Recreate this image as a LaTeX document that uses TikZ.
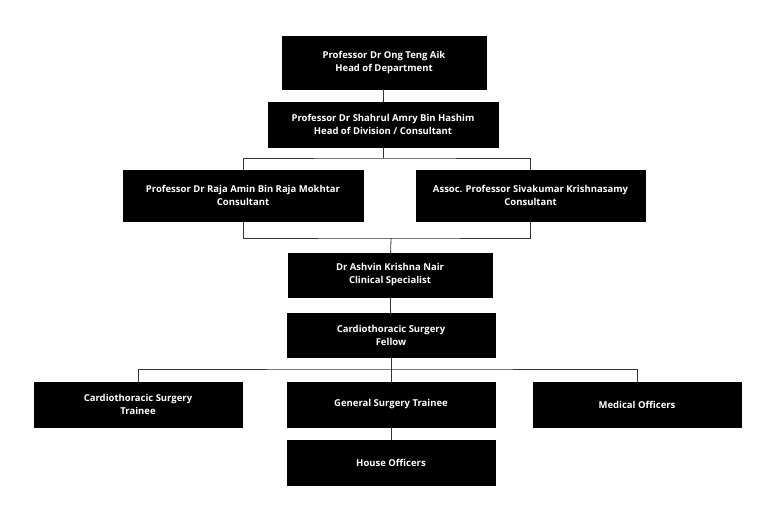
\documentclass[tikz,border=0pt]{standalone}
\usepackage{fontspec}
\setmainfont{Open Sans}
\usetikzlibrary{positioning}

\tikzset{
  post/.style={draw=black, fill=black, text=white, font=\bfseries\fontsize{9.5}{13}\selectfont,
               align=center, inner sep=0pt, minimum height=#1},
  post/.default=45pt,
  link/.style={draw=black!80, line width=0.8pt}
}

\begin{document}
\begin{tikzpicture}[x=1pt, y=-1pt]

    \useasboundingbox (0,0) rectangle (768,522);

    \node[post=53pt, minimum width=204pt] (hod)   at (384,62.5) {Professor Dr Ong Teng Aik\\Head of Department};
    \node[post, minimum width=230pt]      (div)   at (383,124.5) {Professor Dr Shahrul Amry Bin Hashim\\Head of Division / Consultant};
    \node[post=51pt, minimum width=240pt] (raja)  at (243,195.5) {Professor Dr Raja Amin Bin Raja Mokhtar\\Consultant};
    \node[post=51pt, minimum width=229pt] (siva)  at (530.5,195.5) {Assoc. Professor Sivakumar Krishnasamy\\Consultant};
    \node[post=44pt, minimum width=204pt] (spec)  at (390,275) {Dr Ashvin Krishna Nair\\Clinical Specialist};
    \node[post=44pt, minimum width=208pt] (fellow) at (391,335) {Cardiothoracic Surgery\\Fellow};
    \node[post, minimum width=208pt]      (cts)   at (138,404.5) {Cardiothoracic Surgery\\Trainee};
    \node[post, minimum width=208pt]      (gst)   at (391,404.5) {General Surgery Trainee};
    \node[post, minimum width=208pt]      (mo)    at (637,404.5) {Medical Officers};
    \node[post, minimum width=208pt]      (ho)    at (391,462.5) {House Officers};

    % tree links
    \coordinate (top)  at (383,158);
    \coordinate (bot)  at (391,238);
    \coordinate (fork) at (391,369);

    \draw[link] (hod) -- (div);
    \draw[link] (div) -- (top);
    \draw[link] (raja.north) |- (top) -| (siva.north);
    \draw[link] (raja.south) |- (bot) -| (siva.south);
    \draw[link] (bot) -- (spec);
    \draw[link] (spec) -- (fellow);
    \draw[link] (fellow) -- (gst);
    \draw[link] (cts.north) |- (fork) -| (mo.north);
    \draw[link] (gst) -- (ho);

\end{tikzpicture}
\end{document}
